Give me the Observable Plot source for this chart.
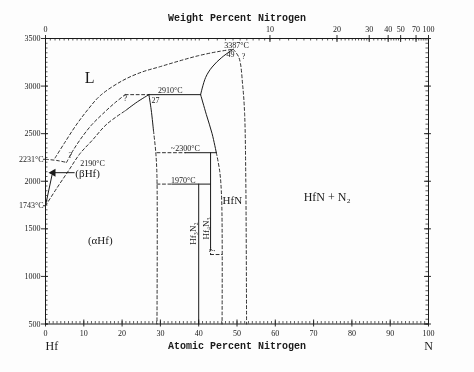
<!DOCTYPE html>
<html><head><meta charset="utf-8">
<script src="https://cdn.jsdelivr.net/npm/d3@7"></script>
<script src="https://cdn.jsdelivr.net/npm/@observablehq/plot@0.6"></script>
<style>
html,body{margin:0;padding:0;background:#fdfdfd;}
#chart svg{display:block;filter:grayscale(1);}
</style></head>
<body><div id="chart"></div>
<script>
// ---- axis tick values ----
const atMajor = [0,10,20,30,40,50,60,70,80,90,100];
const atMinor = d3.range(0,101,1);
const tMajor = [500,1000,1500,2000,2500,3000,3500];
const tMinor = d3.range(500,3501,50);
const wtMajor = [0,10,20,30,40,50,70,100];
const wtMinor = [...d3.range(0,2,0.1), ...d3.range(2,5,0.2), ...d3.range(5,10,0.5), ...d3.range(10,30,1), ...d3.range(30,50,2), ...d3.range(50,100,5)];
const M_N = 14.007, M_Hf = 178.49;
const wtToAt = w => 100*(w/M_N)/(w/M_N + (100-w)/M_Hf);

// ---- phase boundaries [at% N, °C] ----
const liqUpper = [[2.5,2245],[5,2405],[8,2590],[11,2750],[14.3,2900],[20,3055],[25,3145],[30,3205],[35,3265],[40,3320],[45,3362],[49,3387]];
const liqMiddle = [[5.5,2198],[7,2310],[9.1,2440],[12,2590],[15,2710],[18,2820],[20.8,2910]];
const line2231 = [[0,2231],[3,2218],[5.5,2198]];
const alphaLeftDashed = [[0,1743],[3,1930],[6,2110],[9,2290],[12.2,2430],[16,2600],[20.9,2743]];
const alphaLeftSolid = [[20.9,2743],[24,2835],[27,2910]];
const betaBoundary = [[0,1743],[1.7,2065]];
const line2910Dashed = [[20.8,2910],[27,2910]];
const line2910Solid = [[27,2910],[40.5,2910]];
const alphaRightSolid = [[27,2910],[27.6,2750],[28.2,2530]];
const alphaRightDashed = [[28.2,2530],[28.8,2300],[29.1,2050],[29.1,500]];
const hfnLeftUpper = [[40.5,2910],[41.8,3090],[43.5,3200],[46,3300],[49,3387]];
const hfnLeftSolid = [[40.5,2910],[42,2700],[43.5,2500],[44.6,2300]];
const hfnLeftDashed = [[44.6,2300],[45.5,2100],[46,1800],[46.1,500]];
const hfnRightDashed = [[49,3387],[50.5,3300],[51.5,3000],[52,2700],[52.3,2000],[52.5,500]];
const line2300Dashed = [[29.1,2300],[36.5,2300]];
const line2300Solid = [[36.5,2300],[44.6,2300]];
const line1970Dashed = [[29.1,1970],[33,1970]];
const line1970Solid = [[33,1970],[43.1,1970]];
const hf3n2 = [[40,1970],[40,500]];
const hf4n3Solid = [[43.1,2300],[43.1,1300]];
const hf4n3Dashed = [[43.1,1300],[43.1,1230]];
const line1230Dashed = [[43.1,1230],[46.1,1230]];

const solidLines = [alphaLeftSolid, betaBoundary, line2910Solid, alphaRightSolid, hfnLeftUpper, hfnLeftSolid, line2300Solid, line1970Solid, hf3n2, hf4n3Solid];
const dashedLines = [liqUpper, liqMiddle, line2231, alphaLeftDashed, line2910Dashed, alphaRightDashed, hfnLeftDashed, hfnRightDashed, line2300Dashed, line1970Dashed, hf4n3Dashed, line1230Dashed];

// ---- annotations ----
const smallLabels = [
  {t:"2910°C", x:32.6, y:2954}, {t:"27", x:28.7, y:2849}, {t:"?", x:20.8, y:2870},
  {t:"3387°C", x:49.9, y:3426}, {t:"49", x:48.3, y:3332}, {t:"?", x:51.7, y:3311},
  {t:"~2300°C", x:36.5, y:2344}, {t:"1970°C", x:36.0, y:2008}, {t:"?", x:6.5, y:2271}
];
const leftLabels = [{t:"2190°C", x:9.1, y:2187}];
const phaseLabels = [
  {t:"(βHf)", x:7.8, y:2085, anchor:"start", size:11},
  {t:"(αHf)", x:14.3, y:1378, anchor:"middle", size:11},
  {t:"HfN", x:48.8, y:1798, anchor:"middle", size:11},
  {t:"HfN + N₂", x:67.4, y:1830, anchor:"start", size:12},
  {t:"L", x:11.5, y:3090, anchor:"middle", size:16}
];
const rotLabels = [{t:"Hf₃N₂", x:38.6, y:1451}, {t:"Hf₄N₃", x:41.9, y:1504}, {t:"?", x:43.5, y:1272}];
const axisTempLabels = [{t:"2231°C", y:2231}, {t:"1743°C", y:1743}];
const betaArrow = [{x1:7.6, x2:2.0, y:2090}];

const fontSerif = "Liberation Serif, DejaVu Serif, serif";
const fontMono = "Liberation Mono, DejaVu Sans Mono, monospace";
const ink = "#1a1a1a";
const dy = 3000/285.5; // °C per pixel
const dx = 100/382.5;  // at% per pixel

const marks = [];
marks.push(Plot.frame({stroke: ink, strokeWidth: 1}));
// bottom axis ticks
marks.push(Plot.ruleX(atMinor, {x: d=>d, y1: 500, y2: 500+2.5*dy, stroke: ink, strokeWidth: 0.7}));
marks.push(Plot.ruleX(atMajor, {x: d=>d, y1: 500-3*dy, y2: 500+4*dy, stroke: ink, strokeWidth: 0.9}));
marks.push(Plot.text(atMajor, {x: d=>d, y: 500, text: d=>String(d), dy: 9, fontSize: 8, fontFamily: fontSerif, fill: ink}));
// top axis (weight percent)
marks.push(Plot.ruleX(wtMinor, {x: d=>wtToAt(d), y1: 3500, y2: 3500-2.5*dy, stroke: ink, strokeWidth: 0.7}));
marks.push(Plot.ruleX(wtMajor, {x: d=>wtToAt(d), y1: 3500+3*dy, y2: 3500-4*dy, stroke: ink, strokeWidth: 0.9}));
marks.push(Plot.text(wtMajor, {x: d=>wtToAt(d), y: 3500, text: d=>String(d), dy: -9, fontSize: 8, fontFamily: fontSerif, fill: ink}));
// left axis
marks.push(Plot.ruleY(tMinor, {y: d=>d, x1: 0, x2: 2.5*dx, stroke: ink, strokeWidth: 0.7}));
marks.push(Plot.ruleY(tMajor, {y: d=>d, x1: -4*dx, x2: 3*dx, stroke: ink, strokeWidth: 0.9}));
marks.push(Plot.text(tMajor, {x: 0, y: d=>d, text: d=>String(d), dx: -5, textAnchor: "end", fontSize: 8, fontFamily: fontSerif, fill: ink}));
marks.push(Plot.ruleY(axisTempLabels, {y: "y", x1: -2*dx, x2: 0, stroke: ink, strokeWidth: 0.9}));
marks.push(Plot.text(axisTempLabels, {x: 0, y: "y", text: "t", dx: -2, textAnchor: "end", fontSize: 8, fontFamily: fontSerif, fill: ink}));
// right axis
marks.push(Plot.ruleY(tMinor, {y: d=>d, x1: 100, x2: 100-2.5*dx, stroke: ink, strokeWidth: 0.7}));
marks.push(Plot.ruleY(tMajor, {y: d=>d, x1: 100+3*dx, x2: 100-4*dx, stroke: ink, strokeWidth: 0.9}));
// phase boundaries
for (const L of solidLines) marks.push(Plot.line(L, {x: d=>d[0], y: d=>d[1], stroke: ink, strokeWidth: 1, curve: "catmull-rom"}));
for (const L of dashedLines) marks.push(Plot.line(L, {x: d=>d[0], y: d=>d[1], stroke: ink, strokeWidth: 0.9, strokeDasharray: "3,2.5", curve: "catmull-rom"}));
// beta arrow
marks.push(Plot.link(betaArrow, {x1: "x1", x2: "x2", y1: "y", y2: "y", stroke: ink, strokeWidth: 1}));
marks.push(Plot.dot(betaArrow, {x: "x2", y: "y", symbol: "triangle", rotate: -90, r: 3, fill: ink, stroke: "none"}));
// labels
marks.push(Plot.text(smallLabels, {x: "x", y: "y", text: "t", fontSize: 8, fontFamily: fontSerif, fill: ink}));
marks.push(Plot.text(leftLabels, {x: "x", y: "y", text: "t", textAnchor: "start", fontSize: 8, fontFamily: fontSerif, fill: ink}));
for (const p of phaseLabels) marks.push(Plot.text([p], {x: "x", y: "y", text: "t", textAnchor: p.anchor, fontSize: p.size, fontFamily: fontSerif, fill: ink}));
marks.push(Plot.text(rotLabels, {x: "x", y: "y", text: "t", rotate: -90, fontSize: 9, fontFamily: fontSerif, fill: ink}));
// axis titles
marks.push(Plot.text(["Weight Percent Nitrogen"], {x: 50, y: 3500, text: d=>d, dy: -21, fontSize: 10, fontFamily: fontMono, fontWeight: "bold", fill: ink}));
marks.push(Plot.text(["Atomic Percent Nitrogen"], {x: 50, y: 500, text: d=>d, dy: 22, fontSize: 10, fontFamily: fontMono, fontWeight: "bold", fill: ink}));
marks.push(Plot.text(["Hf"], {x: 0, y: 500, text: d=>d, dy: 22, textAnchor: "start", fontSize: 12, fontFamily: fontSerif, fill: ink}));
marks.push(Plot.text(["N"], {x: 100, y: 500, text: d=>d, dy: 22, fontSize: 12, fontFamily: fontSerif, fill: ink}));

const chart = Plot.plot({
  width: 474, height: 372,
  marginLeft: 45, marginRight: 46, marginTop: 38, marginBottom: 48.5,
  x: {domain: [0,100], axis: null},
  y: {domain: [500,3500], axis: null},
  style: {background: "#fdfdfd", overflow: "visible"},
  marks
});
document.getElementById("chart").appendChild(chart);
</script></body></html>
